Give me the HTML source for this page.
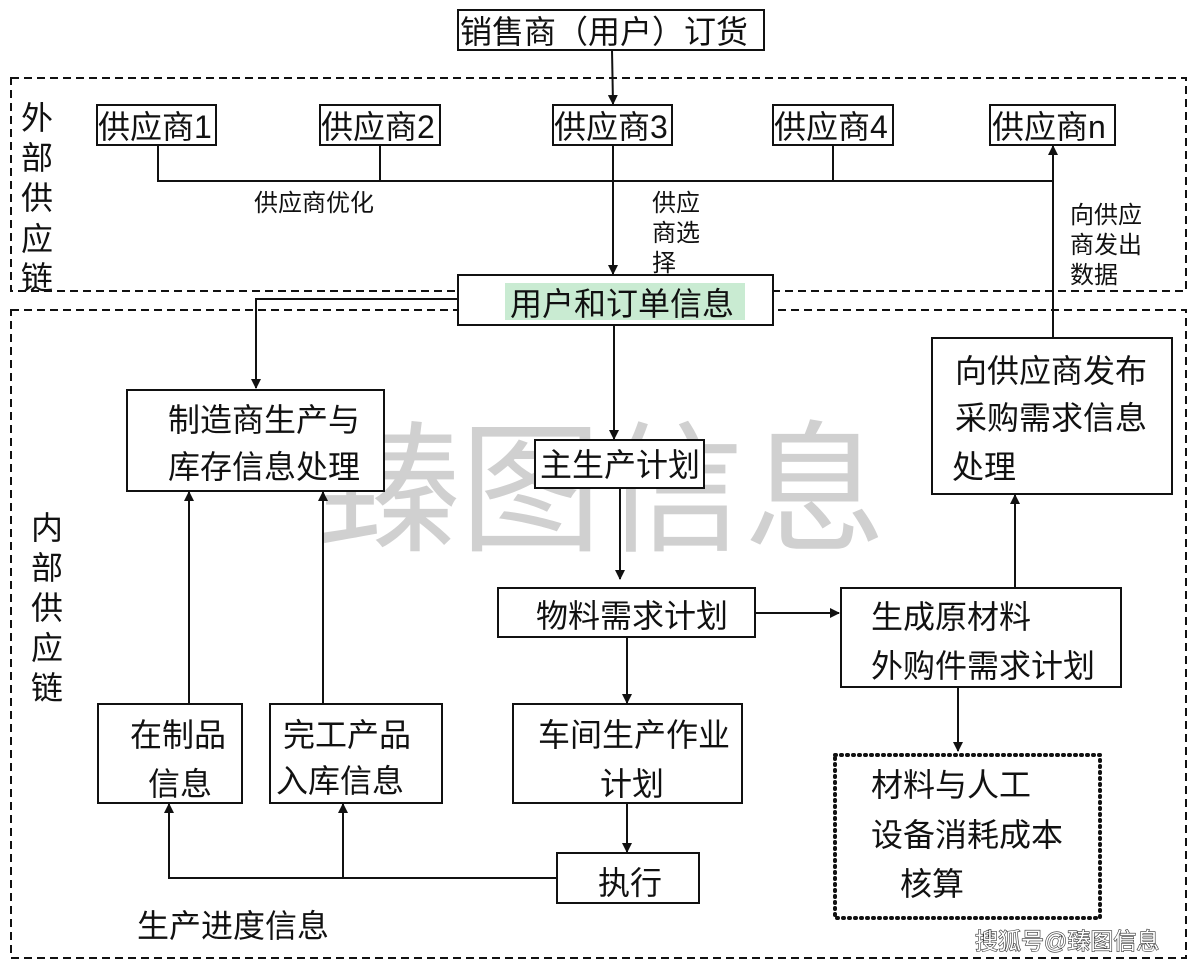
<!DOCTYPE html>
<html><head><meta charset="utf-8"><style>
html,body{margin:0;padding:0;background:#fff;width:1188px;height:965px;overflow:hidden}
svg text{font-family:"Liberation Sans","Noto Sans CJK SC",sans-serif;fill:#111}
</style></head><body>
<svg width="1188" height="965" viewBox="0 0 1188 965" xmlns="http://www.w3.org/2000/svg">
<defs><marker id="a" markerWidth="10" markerHeight="10" refX="9" refY="5" orient="auto" markerUnits="userSpaceOnUse"><path d="M0,0 L10,5 L0,10 z" fill="#111"/></marker></defs>
<text x="318" y="540" font-size="142" style="fill:#d0d0d0">臻图信息</text>
<rect x="11" y="78" width="1175" height="213" fill="none" stroke="#111" stroke-width="2" stroke-dasharray="8,5"/>
<rect x="11" y="310" width="1175" height="648" fill="none" stroke="#111" stroke-width="2" stroke-dasharray="8,5"/>
<g fill="#fff" stroke="#111" stroke-width="2">
<rect x="458" y="10" width="306" height="40"/>
<rect x="97" y="105" width="119" height="40"/>
<rect x="320" y="105" width="120" height="40"/>
<rect x="553" y="105" width="119" height="40"/>
<rect x="773" y="105" width="120" height="40"/>
<rect x="990" y="105" width="125" height="40"/>
<rect x="458" y="275" width="315" height="50"/>
<rect x="127" y="390" width="257" height="101"/>
<rect x="535" y="440" width="169" height="48"/>
<rect x="932" y="338" width="240" height="156"/>
<rect x="498" y="588" width="257" height="49"/>
<rect x="841" y="588" width="280" height="99"/>
<rect x="513" y="704" width="229" height="99"/>
<rect x="557" y="853" width="142" height="50"/>
<rect x="98" y="704" width="144" height="99"/>
<rect x="270" y="704" width="172" height="99"/>
</g>
<rect x="505" y="283" width="240" height="37" fill="#c9ebd2"/>
<rect x="835" y="755" width="265" height="163" fill="none" stroke="#111" stroke-width="4" stroke-dasharray="1,5" stroke-linecap="round"/>
<g stroke="#111" stroke-width="2" fill="none">
<path d="M612 50 L613 104" marker-end="url(#a)"/>
<path d="M158 145 V181 H1053"/>
<path d="M380 145 V181"/><path d="M833 145 V181"/>
<path d="M613 145 V274" marker-end="url(#a)"/>
<path d="M1053 338 V146" marker-end="url(#a)"/>
<path d="M458 299 H256 V388" marker-end="url(#a)"/>
<path d="M614 325 V439" marker-end="url(#a)"/>
<path d="M620 488 V579" marker-end="url(#a)"/>
<path d="M755 613 H839" marker-end="url(#a)"/>
<path d="M1015 588 V495" marker-end="url(#a)"/>
<path d="M627 637 V703" marker-end="url(#a)"/>
<path d="M958 687 V751" marker-end="url(#a)"/>
<path d="M627 803 V852" marker-end="url(#a)"/>
<path d="M189 704 V492" marker-end="url(#a)"/>
<path d="M323 704 V492" marker-end="url(#a)"/>
<path d="M557 878 H169 V804" marker-end="url(#a)"/>
<path d="M343 878 V804" marker-end="url(#a)"/>
</g>
<g font-size="32">
<text x="460" y="43">销售商（用户）订货</text>
<text x="98" y="138">供应商1</text>
<text x="321" y="138">供应商2</text>
<text x="554" y="138">供应商3</text>
<text x="774" y="138">供应商4</text>
<text x="992" y="138">供应商n</text>
<text x="510" y="315">用户和订单信息</text>
<text x="168" y="431">制造商生产与</text>
<text x="168" y="478">库存信息处理</text>
<text x="540" y="476">主生产计划</text>
<text x="955" y="382">向供应商发布</text>
<text x="955" y="429">采购需求信息</text>
<text x="952" y="478">处理</text>
<text x="536" y="627">物料需求计划</text>
<text x="871" y="628">生成原材料</text>
<text x="871" y="677">外购件需求计划</text>
<text x="538" y="746">车间生产作业</text>
<text x="600" y="795">计划</text>
<text x="598" y="894">执行</text>
<text x="130" y="746">在制品</text>
<text x="148" y="795">信息</text>
<text x="283" y="746">完工产品</text>
<text x="276" y="792">入库信息</text>
<text x="871" y="796">材料与人工</text>
<text x="871" y="846">设备消耗成本</text>
<text x="900" y="895">核算</text>
<text x="137" y="937">生产进度信息</text>
</g>
<g font-size="32">
<text x="21" y="129">外</text><text x="21" y="169">部</text><text x="21" y="209">供</text><text x="21" y="250">应</text><text x="21" y="289">链</text>
<text x="31" y="539">内</text><text x="31" y="579">部</text><text x="31" y="619">供</text><text x="31" y="659">应</text><text x="31" y="699">链</text>
</g>
<g font-size="24">
<text x="254" y="211">供应商优化</text>
<text x="652" y="211">供应</text><text x="652" y="241">商选</text><text x="652" y="271">择</text>
<text x="1070" y="223">向供应</text><text x="1070" y="253">商发出</text><text x="1070" y="283">数据</text>
</g>
<text x="975" y="949" font-size="23" style="fill:#fff;stroke:#333;stroke-width:1.2;paint-order:stroke">搜狐号@臻图信息</text>
</svg>
</body></html>
